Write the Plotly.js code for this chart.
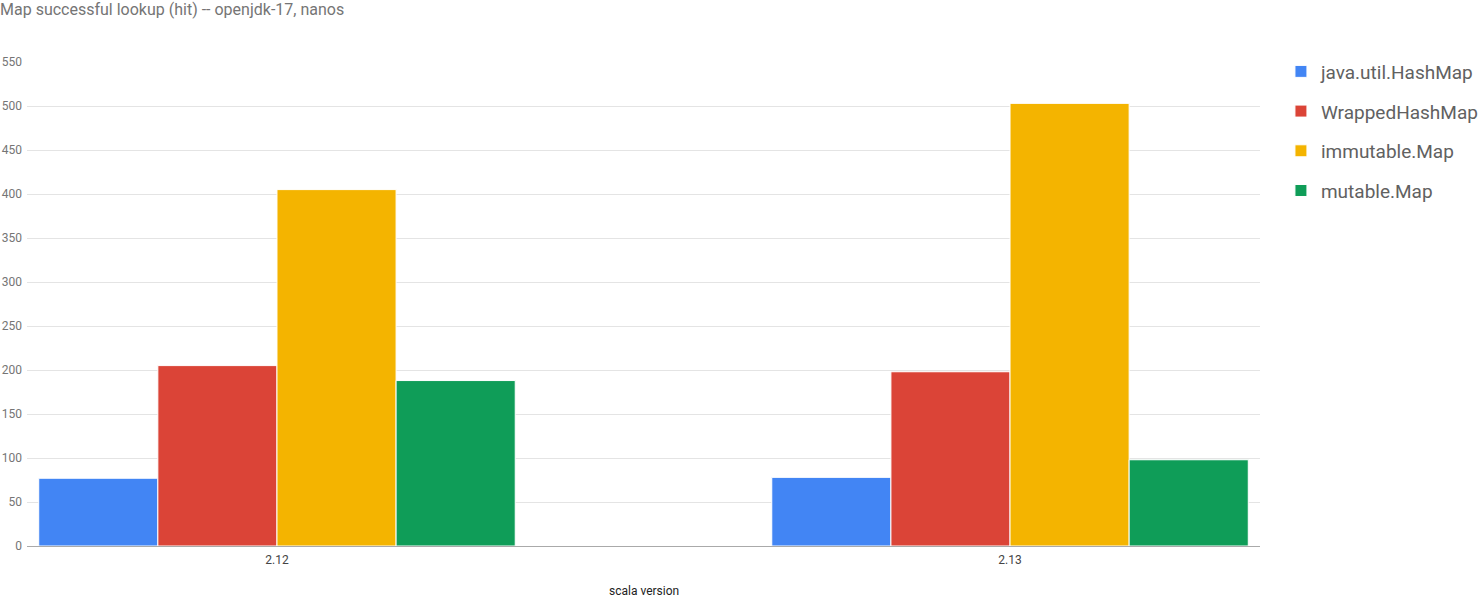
<!DOCTYPE html>
<html>
<head>
<meta charset="utf-8">
<script src="https://cdn.plot.ly/plotly-3.0.1.min.js"></script>
<style>
  html, body { margin: 0; padding: 0; background: #fff; }
  #chart { width: 1480px; height: 597px; }
</style>
</head>
<body>
<div id="chart"></div>
<script>
// scala versions on the x axis
var versions = ['2.12', '2.13'];

// nanos per lookup
var javaHashMap = [77, 78];
var wrappedHashMap = [205, 198];
var immutableMap = [405, 503];
var mutableMap = [188, 98];

var seriesNames = ['java.util.HashMap', 'WrappedHashMap', 'immutable.Map', 'mutable.Map'];
var seriesColors = ['#4285F4', '#DB4437', '#F4B400', '#0F9D58'];
var seriesValues = [javaHashMap, wrappedHashMap, immutableMap, mutableMap];

var traces = seriesValues.map(function(vals, i) {
    return {
        type: 'bar',
        x: versions,
        y: vals,
        name: seriesNames[i],
        legendgroup: 'g' + i,
        marker: { color: seriesColors[i], line: { color: '#ffffff', width: 1 } },
        hoverinfo: 'x+y+name'
    };
});

var layout = {
    width: 1480,
    height: 597,
    font: { family: 'Roboto, Arial, sans-serif', color: '#757575' },
    margin: { l: 27, r: 220, t: 62, b: 51 },
    paper_bgcolor: '#ffffff',
    plot_bgcolor: '#ffffff',
    title: {
        text: 'Map successful lookup (hit) -- openjdk-17, nanos',
        font: { size: 16, color: '#757575' },
        x: 0, xref: 'container', xanchor: 'left',
        y: 0.985, yref: 'container', yanchor: 'middle', pad: { t: 0, l: 0 }
    },
    barmode: 'group',
    bargap: 0.35,
    bargroupgap: 0,
    xaxis: {
        type: 'category',
        range: [-0.341, 1.341],
        showgrid: false,
        showline: false,
        zeroline: false,
        ticks: '',
        ticklabelstandoff: 5,
        tickfont: { size: 12, color: '#444444' }
    },
    yaxis: {
        range: [0, 550],
        dtick: 50,
        showgrid: true,
        gridcolor: '#e4e4e4',
        gridwidth: 1,
        zeroline: true,
        zerolinecolor: '#aaaaaa',
        zerolinewidth: 1,
        showline: false,
        ticks: '',
        ticklabelstandoff: 4,
        tickfont: { size: 12, color: '#757575' }
    },
    // x axis title sits near the bottom edge, drawn as an annotation
    annotations: [{
        text: 'scala version',
        xref: 'paper', x: 0.5, xanchor: 'center',
        yref: 'paper', y: -0.092, yanchor: 'middle',
        showarrow: false,
        font: { size: 12, color: '#222222' }
    }],
    showlegend: true,
    legend: {
        xref: 'container', yref: 'container',
        x: 0.8655, xanchor: 'left',
        y: 0.912, yanchor: 'top',
        font: { size: 19, color: '#616161' },
        tracegroupgap: 12,
        itemwidth: 30,
        bgcolor: 'rgba(0,0,0,0)'
    }
};

Plotly.newPlot('chart', traces, layout, { displayModeBar: false, staticPlot: true });
</script>
</body>
</html>
